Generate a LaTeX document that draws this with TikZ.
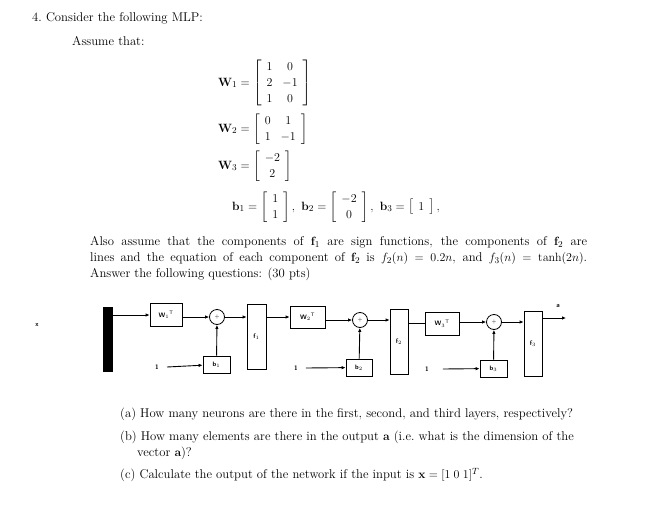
\documentclass[tikz,border=0pt]{standalone}
\usepackage{amsmath,amssymb}
\usetikzlibrary{arrows.meta}
\begin{document}
\begin{tikzpicture}[x=1pt,y=-1pt,
  txt/.style={inner sep=0pt,font=\fontsize{12.7}{16}\selectfont},
  lbl/.style={inner sep=0pt,font=\fontsize{6.5}{7}\selectfont\sffamily\bfseries},
  blk/.style={draw,line width=0.8pt,inner sep=0pt,font=\fontsize{6.5}{7}\selectfont\sffamily\bfseries},
  sumc/.style={draw,circle,line width=0.8pt,minimum size=15pt,inner sep=0pt,font=\fontsize{6}{7}\selectfont\sffamily},
  ar/.style={-{Latex[length=4pt,width=3.5pt]},line width=0.9pt},
  ln/.style={line width=0.9pt}]
\useasboundingbox (0,0) rectangle (645,522);
\node[txt,anchor=west] (q4) at (32,18) {4.\ Consider the following MLP:};
\node[txt,anchor=west] (as) at (72,41) {Assume that:};
\node[txt,anchor=west] (w1) at (218,83) {$\mathbf{W}_1=\left[\begin{array}{cc}1&0\\2&-1\\1&0\end{array}\right]$};
\node[txt,anchor=west] (w2) at (218,129) {$\mathbf{W}_2=\left[\begin{array}{cc}0&1\\1&-1\end{array}\right]$};
\node[txt,anchor=west] (w3) at (218,166) {$\mathbf{W}_3=\left[\begin{array}{c}-2\\2\end{array}\right]$};
\node[txt,anchor=west] (bs) at (232,207) {$\mathbf{b}_1=\left[\begin{array}{c}1\\1\end{array}\right],\ \mathbf{b}_2=\left[\begin{array}{c}-2\\0\end{array}\right],\ \mathbf{b}_3=\left[\begin{array}{c}1\end{array}\right],$};
\node[txt,anchor=north west,text width=497pt,align=justify] (par) at (90,236) {Also assume that the components of $\mathbf{f}_1$ are sign functions, the components of $\mathbf{f}_2$ are\linebreak lines and the equation of each component of $\mathbf{f}_2$ is $f_2(n)=0.2n$, and $f_3(n)=\tanh(2n)$.\linebreak Answer the following questions: (30 pts)};
% diagram
\node[lbl] (x) at (37,325) {x};
\node[fill=black,minimum width=10pt,minimum height=65pt,inner sep=0pt] (bar) at (108,339.5) {};
\node[blk,minimum width=32pt,minimum height=23pt] (W1) at (166,315) {W$_1$$^{\mathsf T}$};
\node[sumc] (s1) at (217,317) {+};
\node[blk,minimum width=27pt,minimum height=17pt] (b1) at (216.5,364.5) {b$_1$};
\node[lbl] (o1) at (157,367) {1};
\node[blk,minimum width=19pt,minimum height=65pt] (f1) at (256.5,336.5) {f$_1$};
\node[blk,minimum width=35pt,minimum height=22pt] (W2) at (307.5,317) {W$_2$$^{\mathsf T}$};
\node[sumc] (s2) at (360,320) {+};
\node[blk,minimum width=26pt,minimum height=17pt] (b2) at (359,367.5) {b$_2$};
\node[lbl] (o2) at (296,368) {1};
\node[blk,minimum width=18pt,minimum height=65pt] (f2) at (399,341.5) {f$_2$};
\node[blk,minimum width=34pt,minimum height=23pt] (W3) at (442,323.5) {W$_3$$^{\mathsf T}$};
\node[sumc] (s3) at (494,322) {+};
\node[blk,minimum width=27pt,minimum height=17pt] (b3) at (493.5,368.5) {b$_3$};
\node[lbl] (o3) at (427,369) {1};
\node[blk,minimum width=18pt,minimum height=65pt] (f3) at (533,343.5) {f$_3$};
\node[lbl] (a) at (558,306) {a};
\coordinate (aend) at (566,318);
\draw[ar] (bar.east |- W1) -- (W1);
\draw[ar] (W1.east |- s1) -- (s1);
\draw[ar] (o1.east)++(8,0) -- (b1);
\draw[ar] (b1) -- (s1);
\draw[ar] (s1) -- (f1.west |- s1);
\draw[ar] (f1.east |- W2) -- (W2);
\draw[ar] (W2.east |- s2) -- (s2);
\draw[ar] (o2.east)++(8,0) -- (b2);
\draw[ar] (b2) -- (s2);
\draw[ar] (s2) -- (f2.west |- s2);
\draw[ln] (f2.east |- W3.west) -- (W3.west);
\draw[ar] (W3.east |- s3) -- (s3);
\draw[ar] (o3.east)++(14,0) -- (b3);
\draw[ar] (b3) -- (s3);
\draw[ar] (s3) -- (f3.west |- s3);
\draw[ar] (f3.east |- aend) -- (aend);
% questions
\node[txt,anchor=north west,align=left] (qa) at (120,408) {(a)\ How many neurons are there in the first, second, and third layers, respectively?};
\node[txt,anchor=north west,align=left] (qb) at (120,431) {(b)\ How many elements are there in the output $\mathbf{a}$ (i.e.\ what is the dimension of the\\\hspace*{17pt}vector $\mathbf{a}$)?};
\node[txt,anchor=north west,align=left] (qc) at (120,468) {(c)\ Calculate the output of the network if the input is $\mathbf{x}=[1\;0\;1]^T$.};
\end{tikzpicture}
\end{document}
